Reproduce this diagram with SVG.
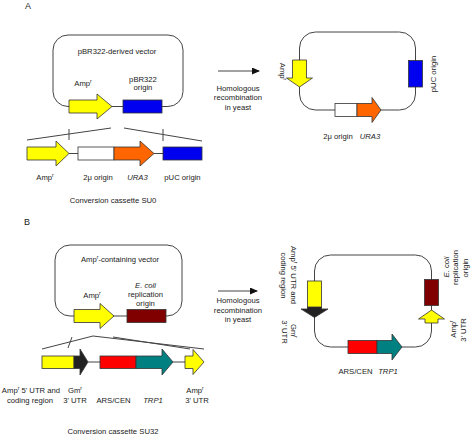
<svg xmlns="http://www.w3.org/2000/svg" width="474" height="437" viewBox="0 0 474 437">
<style>
text{font-family:"Liberation Sans",Arial,sans-serif;font-size:7.7px;fill:#222;text-anchor:middle}
.it{font-style:italic}
.lbl{font-size:9px;text-anchor:start}
.plas{fill:none;stroke:#444;stroke-width:1}
.ln{stroke:#444;stroke-width:1;fill:none}
.sh{stroke:#333;stroke-width:0.8}
.y{fill:#FFFF00}.b{fill:#0000F0}.o{fill:#FF6600}.w{fill:#FFFFFF}.dr{fill:#800000}.t{fill:#008080}.r{fill:#FF0000}.k{fill:#222222}
.sup{font-size:5px}
</style>
<defs>
<marker id="ah" markerWidth="8" markerHeight="7" refX="7" refY="3.5" orient="auto" markerUnits="userSpaceOnUse">
<polygon points="0,0 8,3.5 0,7" fill="#111"/>
</marker>
</defs>
<rect width="474" height="437" fill="#fff"/>

<text class="lbl" x="25" y="9">A</text>
<text class="lbl" x="24" y="225">B</text>

<g id="connectors">
<line class="ln" x1="218" y1="71" x2="259" y2="71" stroke="#111" marker-end="url(#ah)"/>
<line class="ln" x1="218" y1="291" x2="257" y2="291" stroke="#111" marker-end="url(#ah)"/>
<line class="ln" x1="27" y1="140" x2="111" y2="128"/>
<line class="ln" x1="69" y1="129" x2="69" y2="140"/>
<line class="ln" x1="124" y1="128" x2="202" y2="141"/>
<line class="ln" x1="163" y1="129" x2="163" y2="141"/>
<line class="ln" x1="42" y1="349" x2="93" y2="336"/>
<line class="ln" x1="68" y1="348" x2="72" y2="337"/>
<line class="ln" x1="93" y1="336" x2="204" y2="349"/>
<line class="ln" x1="113" y1="337" x2="190" y2="349"/>
</g>

<g id="text-homologous-a">
<text x="238" y="90.5">Homologous</text>
<text x="238" y="100.2">recombination</text>
<text x="238" y="110">in yeast</text>
</g>
<g id="text-homologous-b">
<text x="238" y="303">Homologous</text>
<text x="238" y="312.7">recombination</text>
<text x="238" y="322.3">in yeast</text>
</g>

<g id="vector-a">
<rect class="plas" x="53" y="35" width="130" height="71.5" rx="15"/>
<text x="117" y="53.5">pBR322-derived vector</text>
<text x="83" y="85.5">Amp<tspan class="sup" dy="-3">r</tspan></text>
<text x="143" y="81.5">pBR322</text>
<text x="143" y="89.5">origin</text>
<polygon class="sh y" points="69,100 97,100 97,94 112,106.5 97,119 97,113 69,113"/>
<rect class="sh b" x="123" y="100" width="39" height="13"/>
</g>

<g id="cassette-su0">
<line class="ln" x1="69" y1="153.5" x2="78" y2="153.5"/>
<line class="ln" x1="154" y1="153.5" x2="163" y2="153.5"/>
<polygon class="sh y" points="27,147 56,147 56,141 69,153.5 56,166 56,160 27,160"/>
<rect class="sh w" x="78" y="147" width="36" height="13"/>
<polygon class="sh o" points="114,147 140,147 140,141 154,153.5 140,166 140,160 114,160"/>
<rect class="sh b" x="163" y="147" width="39" height="13"/>
<text x="45" y="179.5">Amp<tspan class="sup" dy="-3">r</tspan></text>
<text x="98" y="179.5">2μ origin</text>
<text class="it" x="137.5" y="179.5">URA3</text>
<text x="182.5" y="179.5">pUC origin</text>
<text x="113" y="203">Conversion cassette SU0</text>
</g>

<g id="result-a">
<rect class="plas" x="299.5" y="32" width="116" height="78" rx="16"/>
<polygon class="sh y" points="292.5,60 306.5,60 306.5,78 312.5,78 299.5,87 286.5,78 292.5,78"/>
<rect class="sh b" x="408.5" y="60.5" width="14" height="26.5"/>
<rect class="sh w" x="335" y="103.5" width="22" height="13"/>
<polygon class="sh o" points="357,103.5 372,103.5 372,97.5 381,110 372,122.5 372,116.5 357,116.5"/>
<text transform="translate(279.5,71.5) rotate(90)">Amp<tspan class="sup" dy="-3">r</tspan></text>
<text transform="translate(436.2,74) rotate(-90)">pUC origin</text>
<text x="338" y="139">2μ origin</text>
<text class="it" x="370" y="139">URA3</text>
</g>

<g id="vector-b">
<rect class="plas" x="55" y="245" width="127" height="71" rx="15"/>
<text x="120" y="261.5">Amp<tspan class="sup" dy="-3">r</tspan><tspan dy="3">-containing vector</tspan></text>
<text x="92" y="297.5">Amp<tspan class="sup" dy="-3">r</tspan></text>
<text class="it" x="145.5" y="287.5">E. coli</text>
<text x="145.5" y="296.5">replication</text>
<text x="145.5" y="305.5">origin</text>
<polygon class="sh y" points="74,309.5 100,309.5 100,303.5 114,316 100,328.5 100,322.5 74,322.5"/>
<rect class="sh dr" x="127" y="309.5" width="39" height="13"/>
</g>

<g id="cassette-su32">
<line class="ln" x1="88" y1="362" x2="100" y2="362"/>
<line class="ln" x1="173" y1="362" x2="185" y2="362"/>
<rect class="sh y" x="42" y="356" width="32" height="12.5"/>
<polygon class="sh k" points="74,356 80,356 80,349 88,362 80,375 80,368.5 74,368.5"/>
<rect class="sh r" x="100" y="356" width="36" height="12.5"/>
<polygon class="sh t" points="136,356 162,356 162,349 173,362 162,375 162,368.5 136,368.5"/>
<polygon class="sh y" points="185,356 193,356 193,349.5 204,362 193,374.5 193,368.5 185,368.5"/>
<text x="31" y="393">Amp<tspan class="sup" dy="-3">r</tspan><tspan dy="3"> 5' UTR and</tspan></text>
<text x="30" y="402.5">coding region</text>
<text x="75" y="393">Gm<tspan class="sup" dy="-3">r</tspan></text>
<text x="75" y="402.5">3' UTR</text>
<text x="113.5" y="402.5">ARS/CEN</text>
<text class="it" x="153" y="402.5">TRP1</text>
<text x="195" y="393">Amp<tspan class="sup" dy="-3">r</tspan></text>
<text x="197" y="402.5">3' UTR</text>
<text x="113" y="434">Conversion cassette SU32</text>
</g>

<g id="result-b">
<rect class="plas" x="314.5" y="255" width="117" height="92" rx="16"/>
<rect class="sh y" x="307.5" y="281" width="14" height="27"/>
<polygon class="sh k" points="307.5,307 321.5,307 321.5,309 328,309 314.5,317.5 301,309 307.5,309"/>
<rect class="sh dr" x="424.5" y="279.5" width="14" height="26"/>
<polygon class="sh y" points="425,323 438,323 438,319 444.5,319 431.5,310 418.5,319 425,319"/>
<rect class="sh r" x="348" y="340.5" width="29" height="13"/>
<polygon class="sh t" points="377,340.5 392,340.5 392,334 402,347 392,360 392,353.5 377,353.5"/>
<text transform="translate(290.8,275) rotate(90)">Amp<tspan class="sup" dy="-3">r</tspan><tspan dy="3"> 5' UTR and</tspan></text>
<text transform="translate(281.1,275.5) rotate(90)">coding region</text>
<text transform="translate(291.2,331) rotate(90)">Gm<tspan class="sup" dy="-3">r</tspan></text>
<text transform="translate(281.5,332) rotate(90)">3' UTR</text>
<text class="it" transform="translate(448.5,267) rotate(-90)">E. coli</text>
<text transform="translate(458.2,267.5) rotate(-90)">replication</text>
<text transform="translate(467.9,268) rotate(-90)">origin</text>
<text transform="translate(456.2,329) rotate(-90)">Amp<tspan class="sup" dy="-3">r</tspan></text>
<text transform="translate(466,330) rotate(-90)">3' UTR</text>
<text x="355.5" y="374">ARS/CEN</text>
<text class="it" x="388" y="374">TRP1</text>
</g>
</svg>
